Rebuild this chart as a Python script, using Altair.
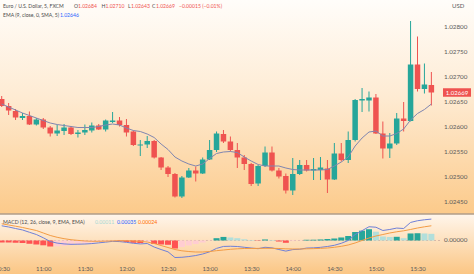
import altair as alt
import pandas as pd

# ---------------- data ----------------
minutes = list(range(0, 315, 5))  # minutes after 10:30, one candle every 5 min (63 candles)

opens = [1.02656, 1.02642, 1.02632, 1.02618, 1.02622, 1.02605, 1.02615, 1.02599, 1.02587, 1.02592,
         1.02599, 1.02586, 1.02589, 1.02593, 1.02603, 1.02595, 1.02610, 1.02613, 1.02604, 1.02591,
         1.02563, 1.02565, 1.02572, 1.02539, 1.02519, 1.02506, 1.02461, 1.02499, 1.02513, 1.02507,
         1.02535, 1.02554, 1.02586, 1.02571, 1.02554, 1.02539, 1.02526, 1.02487, 1.02522, 1.02549,
         1.02513, 1.02502, 1.02473, 1.02506, 1.02524, 1.02513, 1.02514, 1.02517, 1.02495, 1.02547,
         1.02534, 1.02574, 1.02653, 1.02653, 1.02659, 1.02587, 1.02557, 1.02567, 1.02617, 1.02612,
         1.02725, 1.02676, 1.02684]
highs = [1.02662, 1.02648, 1.02636, 1.02628, 1.02631, 1.02618, 1.02618, 1.02602, 1.02604, 1.02606,
         1.02602, 1.02594, 1.02605, 1.02609, 1.02606, 1.02615, 1.02630, 1.02620, 1.02616, 1.02593,
         1.02574, 1.02582, 1.02574, 1.02540, 1.02522, 1.02508, 1.02502, 1.02518, 1.02521, 1.02539,
         1.02574, 1.02591, 1.02594, 1.02581, 1.02568, 1.02544, 1.02528, 1.02524, 1.02561, 1.02561,
         1.02518, 1.02507, 1.02538, 1.02534, 1.02534, 1.02538, 1.02540, 1.02534, 1.02568, 1.02568,
         1.02591, 1.02656, 1.02678, 1.02671, 1.02666, 1.02611, 1.02588, 1.02628, 1.02650, 1.02812,
         1.02781, 1.02727, 1.02710]
lows = [1.02640, 1.02624, 1.02614, 1.02614, 1.02604, 1.02603, 1.02596, 1.02581, 1.02582, 1.02584,
        1.02584, 1.02579, 1.02584, 1.02589, 1.02594, 1.02591, 1.02608, 1.02601, 1.02581, 1.02562,
        1.02542, 1.02558, 1.02537, 1.02514, 1.02500, 1.02459, 1.02458, 1.02498, 1.02491, 1.02506,
        1.02534, 1.02550, 1.02568, 1.02551, 1.02518, 1.02514, 1.02482, 1.02482, 1.02520, 1.02511,
        1.02497, 1.02467, 1.02464, 1.02504, 1.02511, 1.02494, 1.02494, 1.02468, 1.02494, 1.02531,
        1.02528, 1.02571, 1.02630, 1.02631, 1.02586, 1.02537, 1.02538, 1.02564, 1.02591, 1.02611,
        1.02671, 1.02667, 1.02643]
closes = [1.02642, 1.02633, 1.02619, 1.02622, 1.02605, 1.02615, 1.02599, 1.02587, 1.02593, 1.02599,
          1.02586, 1.02589, 1.02594, 1.02603, 1.02595, 1.02613, 1.02613, 1.02604, 1.02589, 1.02564,
          1.02565, 1.02572, 1.02539, 1.02519, 1.02506, 1.02461, 1.02499, 1.02513, 1.02507, 1.02535,
          1.02554, 1.02587, 1.02571, 1.02554, 1.02539, 1.02526, 1.02486, 1.02522, 1.02549, 1.02513,
          1.02501, 1.02473, 1.02506, 1.02524, 1.02513, 1.02516, 1.02519, 1.02495, 1.02547, 1.02534,
          1.02574, 1.02654, 1.02656, 1.02659, 1.02587, 1.02557, 1.02567, 1.02617, 1.02612, 1.02725,
          1.02676, 1.02685, 1.02669]
ema = [1.02646, 1.02640, 1.02634, 1.02628, 1.02623, 1.02618, 1.02613, 1.02608, 1.02605, 1.02603,
       1.02601, 1.02599, 1.02599, 1.02599, 1.02601, 1.02604, 1.02606, 1.02604, 1.02598, 1.02593,
       1.02591, 1.02586, 1.02579, 1.02566, 1.02555, 1.02540, 1.02532, 1.02526, 1.02522, 1.02526,
       1.02537, 1.02547, 1.02550, 1.02551, 1.02549, 1.02540, 1.02532, 1.02525, 1.02522, 1.02522,
       1.02522, 1.02518, 1.02515, 1.02514, 1.02514, 1.02514, 1.02514, 1.02515, 1.02522, 1.02530,
       1.02540, 1.02562, 1.02578, 1.02590, 1.02592, 1.02582, 1.02582, 1.02587, 1.02596, 1.02614,
       1.02627, 1.02635, 1.02646]
# MACD panel, in units of 0.00001
macd = [24.3, 22.3, 19.8, 17.4, 13.6, 9.9, 4.5, -1.6, -4.3, -5.6,
        -6.3, -6.1, -5.8, -5.1, -3.9, -2.7, -1.4, -1.8, -3.0, -4.6,
        -5.6, -5.0, -10.8, -14.9, -18.7, -28.1, -27.7, -26.5, -24.8, -22.3,
        -18.7, -13.0, -9.8, -9.5, -9.9, -11.2, -12.4, -13.5, -11.2, -12.1,
        -14.9, -17.5, -15.0, -14.5, -12.5, -12.1, -11.3, -9.9, -7.9, -4.6,
        0.0, 9.9, 16.2, 22.7, 21.9, 16.5, 18.2, 20.5, 19.8, 29.8,
        32.6, 34.2, 35.3]
signal = [27.6, 25.6, 23.6, 21.5, 19.0, 16.5, 12.4, 8.3, 5.3, 3.0,
          1.3, 0.2, -0.8, -1.3, -1.3, -1.0, -0.7, -0.5, -0.5, -0.8,
          -1.5, -2.5, -5.0, -8.3, -11.6, -14.9, -17.0, -18.2, -19.0, -19.0,
          -18.2, -16.8, -15.7, -14.5, -13.7, -13.2, -13.2, -13.0, -12.9, -12.9,
          -13.2, -13.7, -14.0, -14.0, -13.7, -13.4, -13.0, -12.4, -11.2, -9.6,
          -7.4, -4.1, 0.0, 4.1, 7.4, 9.9, 12.4, 14.4, 16.0, 18.2,
          20.6, 22.6, 24.3]
hist = [-3.3, -3.3, -3.8, -4.1, -5.4, -6.6, -7.9, -9.9, -9.6, -8.6,
        -7.6, -6.3, -5.0, -3.8, -2.6, -1.7, -0.7, -1.3, -2.5, -3.8,
        -4.1, -2.5, -5.8, -6.6, -7.1, -13.2, -10.7, -8.3, -5.8, -3.3,
        -0.5, 3.8, 5.9, 5.0, 3.8, 2.0, 0.8, -0.5, 1.7, 0.8,
        -1.7, -3.8, -1.0, -0.5, 1.2, 1.3, 1.7, 2.5, 3.3, 5.0,
        7.4, 14.0, 16.2, 18.6, 14.5, 6.6, 5.8, 6.1, 3.8, 11.6,
        12.0, 11.6, 11.0]
price_ticks = ["1.02450", "1.02500", "1.02550", "1.02600", "1.02650", "1.02700", "1.02750", "1.02800"]
time_ticks = [0, 30, 60, 90, 120, 150, 180, 210, 240, 270, 300]

# ---------------- styling ----------------
FONT = "Lato"
UP, DOWN = "#26a69a", "#ef5350"
TXT = "#4a4a4a"
AXC = "#5a5a5a"
W, H = 440, 262

df = pd.DataFrame({"t": minutes, "open": opens, "high": highs, "low": lows, "close": closes,
                   "ema": ema, "macd": macd, "signal": signal, "hist": hist})
hcol = []
prev = None
for h in hist:
    p = h + 1 if prev is None else prev
    if h >= 0:
        hcol.append("#26a69a" if h >= p else "#b2dfdb")
    else:
        hcol.append("#ff5252" if h <= p else "#ffcdd2")
    prev = h
df["hcol"] = hcol
last = df.tail(1)
one = pd.DataFrame({"z": [0]})
ticks_df = pd.DataFrame({"label": price_ticks, "v": [float(s) for s in price_ticks]})

XS = alt.Scale(domain=[-1.227, 316.23], nice=False, zero=False, padding=0)
XAX = alt.Axis(values=time_ticks, domain=False, ticks=False, grid=False, labelFontSize=6,
               labelColor=AXC, labelFont=FONT, labelPadding=3, zindex=2, labelFlush=False,
               labelExpr="floor((630+datum.value)/60) + ':' + (((630+datum.value)%60) < 10 ? '0' : '') + ((630+datum.value)%60)")
PS = alt.Scale(domain=[1.0233, 1.02854], nice=False, zero=False, padding=0)
MS = alt.Scale(domain=[-35.48, 396.86], nice=False, zero=False, padding=0)


def X():
    return alt.X("t:Q", scale=XS, axis=XAX, title=None)


def PY(f):
    return alt.Y(f + ":Q", scale=PS, axis=None, title=None)


def MY(f):
    return alt.Y(f + ":Q", scale=MS, axis=None, title=None)


def txt(s, x, y, color=TXT, size=5.1, align="left", weight="normal"):
    return alt.Chart(one).mark_text(align=align, baseline="middle", fontSize=size, font=FONT,
                                    color=color, fontWeight=weight).encode(
        x=alt.value(x), y=alt.value(y), text=alt.value(s))


bg_main = alt.Chart(one).mark_rect(fill=alt.LinearGradient(
    gradient="linear", x1=0, x2=0, y1=0, y2=1,
    stops=[alt.GradientStop(color="#fffdfa", offset=0), alt.GradientStop(color="#feebd3", offset=0.45),
           alt.GradientStop(color="#fcca8a", offset=1)])).encode(
    x=alt.value(0), x2=alt.value(474), y=alt.value(0), y2=alt.value(214))
bg_macd = alt.Chart(one).mark_rect(fill=alt.LinearGradient(
    gradient="linear", x1=0, x2=0, y1=0, y2=1,
    stops=[alt.GradientStop(color="#fff6ec", offset=0), alt.GradientStop(color="#fbc684", offset=1)])).encode(
    x=alt.value(0), x2=alt.value(474), y=alt.value(214), y2=alt.value(274))

cond = alt.condition("datum.close >= datum.open", alt.value(UP), alt.value(DOWN))
wicks = alt.Chart(df).mark_rule(strokeWidth=1).encode(x=X(), y=PY("low"), y2="high", color=cond)
bodies = alt.Chart(df).mark_bar(size=5.5).encode(x=X(), y=PY("open"), y2="close", color=cond)
ema_line = alt.Chart(df).mark_line(color="#8086b0", strokeWidth=1).encode(x=X(), y=PY("ema"))
pbox = alt.Chart(last).transform_calculate(
    btop="datum.close + 0.000085", bbot="datum.close - 0.000085"
).mark_rect(color=DOWN).encode(x=alt.value(443), x2=alt.value(471), y=PY("btop"), y2="bbot")
ptxt = alt.Chart(last).mark_text(color="white", fontSize=6, font=FONT, align="center",
                                 baseline="middle").encode(
    x=alt.value(457), y=PY("close"), text=alt.Text("close:Q", format=".5f"))
plabels = alt.Chart(ticks_df).mark_text(align="left", baseline="middle", fontSize=6.3, font=FONT,
                                        color=AXC).encode(
    x=alt.value(444), y=PY("v"), text="label:N")
price = alt.layer(wicks, bodies, ema_line, pbox, ptxt, plabels)

zero = alt.Chart(one).mark_rule(color="#d9b7a6", strokeDash=[2, 2], strokeWidth=1).encode(y=MY("z"))
zlabel = alt.Chart(one).mark_text(align="left", baseline="middle", fontSize=6.3, font=FONT,
                                  color=AXC).encode(
    x=alt.value(444), y=MY("z"), text=alt.Text("z:Q", format=".5f"))
hbars = alt.Chart(df).mark_bar(size=6).encode(x=X(), y=MY("hist"), y2=alt.datum(0),
                                             color=alt.Color("hcol:N", scale=None))
mline = alt.Chart(df).mark_line(color="#6f80d8", strokeWidth=1).encode(x=X(), y=MY("macd"))
sline = alt.Chart(df).mark_line(color="#f39c45", strokeWidth=1).encode(x=X(), y=MY("signal"))
macd_panel = alt.layer(zero, hbars, mline, sline, zlabel)

sep = alt.Chart(one).mark_rule(color="#b09d88", strokeWidth=1.5).encode(
    x=alt.value(0), x2=alt.value(474), y=alt.value(214))

o, hi, lo, c = opens[-1], highs[-1], lows[-1], closes[-1]
chg = c - o
texts = [
    txt("Euro / U.S. Dollar, 5, FXCM", 3, 5.7),
    txt("O", 74, 5.7), txt(f"{o:.5f}", 78, 5.7, DOWN),
    txt("H", 101.5, 5.7), txt(f"{hi:.5f}", 105.5, 5.7, DOWN),
    txt("L", 128, 5.7), txt(f"{lo:.5f}", 131, 5.7, DOWN),
    txt("C", 152, 5.7), txt(f"{c:.5f}", 156, 5.7, DOWN),
    txt(f"{chg:+.5f} ({chg / o * 100:+.2f}%)".replace("-", "\u2212"), 179, 5.7, DOWN),
    txt("EMA (9, close, 0, SMA, 5)", 3, 14.7),
    txt(f"{ema[-1]:.5f}", 60, 14.7, "#2962ff"),
    txt("USD", 452, 6, AXC, 6),
    txt("MACD (12, 26, close, 9, EMA, EMA)", 3, 222, TXT, 5.2),
    txt(f"{hist[-1] / 1e5:.5f}", 95, 222, "#a9d8d3", 5.2),
    txt(f"{macd[-1] / 1e5:.5f}", 117, 222, "#2962ff", 5.2),
    txt(f"{signal[-1] / 1e5:.5f}", 138, 222, "#ff6d00", 5.2),
]

chart = alt.layer(bg_main, bg_macd, price, macd_panel, sep, *texts).resolve_scale(y="independent").properties(
    width=W, height=H,
    padding={"left": 0, "top": 0, "right": 34, "bottom": 12},
    autosize=alt.AutoSizeParams(type="none"),
    background="#fffaf3",
).configure_view(stroke=None)

chart.save("out.html", embed_options={"renderer": "svg", "actions": False})
